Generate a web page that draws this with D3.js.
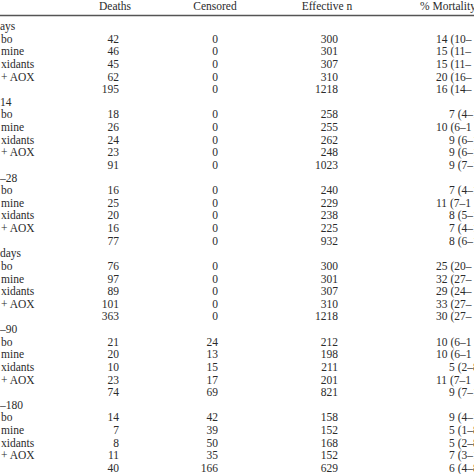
<!DOCTYPE html>
<html>
<head>
<meta charset="utf-8">
<script src="https://cdn.jsdelivr.net/npm/d3@7"></script>
<style>
  body { margin: 0; background: #fff; }
  svg { display: block; font-family: "Liberation Serif", "DejaVu Serif", serif; }
</style>
</head>
<body>
<svg id="chart" width="474" height="474"></svg>
<script>
// Sections of the table (left labels are cut off in the source image)
const sections = ['ays', '14', '–28', 'days', '–90', '–180'];
const groups = ['bo', 'mine', 'xidants', '+ AOX', ''];
const deaths = [
  [42, 46, 45, 62, 195],
  [18, 26, 24, 23, 91],
  [16, 25, 20, 16, 77],
  [76, 97, 89, 101, 363],
  [21, 20, 10, 23, 74],
  [14, 7, 8, 11, 40]
];
const censored = [
  [0, 0, 0, 0, 0],
  [0, 0, 0, 0, 0],
  [0, 0, 0, 0, 0],
  [0, 0, 0, 0, 0],
  [24, 13, 15, 17, 69],
  [42, 39, 50, 35, 166]
];
const effectiveN = [
  [300, 301, 307, 310, 1218],
  [258, 255, 262, 248, 1023],
  [240, 229, 238, 225, 932],
  [300, 301, 307, 310, 1218],
  [212, 198, 211, 201, 821],
  [158, 152, 168, 152, 629]
];
// % mortality point estimate and the visible part of the CI
const mortality = [
  [14, 15, 15, 20, 16],
  [7, 10, 9, 9, 9],
  [7, 11, 8, 7, 8],
  [25, 32, 29, 33, 30],
  [10, 10, 5, 11, 9],
  [9, 5, 5, 7, 6]
];
const ciText = [
  ['(10–', '(11–', '(11–', '(16–', '(14–'],
  ['(4–1', '(6–1', '(6–1', '(6–1', '(7–1'],
  ['(4–1', '(7–1', '(5–1', '(4–1', '(6–1'],
  ['(20–', '(27–', '(24–', '(27–', '(27–'],
  ['(6–1', '(6–1', '(2–8', '(7–1', '(7–1'],
  ['(4–1', '(1–8', '(2–8', '(3–1', '(4–8']
];
const headers = ['Deaths', 'Censored', 'Effective n', '% Mortality ('];

const svg = d3.select('#chart');
const ink = '#2b2b2b';

// flatten into rows: one section label row followed by group rows
const rows = [];
sections.forEach((s, i) => {
  rows.push({ label: s, head: true });
  groups.forEach((g, j) => rows.push({
    label: g, d: deaths[i][j], c: censored[i][j], n: effectiveN[i][j],
    m: mortality[i][j], ci: ciText[i][j]
  }));
});

const y = d3.scaleLinear().domain([0, rows.length - 1]).range([26, 468]);

// header
const hx = [115, 215, 327, 420];
svg.selectAll('text.h').data(headers).join('text')
  .attr('x', (d, i) => hx[i]).attr('y', 10)
  .attr('text-anchor', (d, i) => i === 3 ? 'start' : 'middle')
  .attr('font-size', 11.5).attr('fill', ink).text(d => d);
svg.append('line').attr('x1', 0).attr('x2', 474).attr('y1', 15.5).attr('y2', 15.5)
  .attr('stroke', '#555').attr('stroke-width', 1.3);

const row = svg.selectAll('g.row').data(rows).join('g')
  .attr('transform', (d, i) => `translate(0,${y(i) + 4})`)
  .attr('font-size', 11.5).attr('fill', ink);

row.append('text').attr('x', d => d.head ? 0 : 1).text(d => d.label);

const body = row.filter(d => !d.head);
body.append('text').attr('x', 119).attr('text-anchor', 'end').text(d => d.d);
body.append('text').attr('x', 218).attr('text-anchor', 'end').text(d => d.c);
body.append('text').attr('x', 338).attr('text-anchor', 'end').text(d => d.n);
body.append('text')
  .attr('x', d => String(d.m).length > 1 ? 436 : 449)
  .text(d => `${d.m} ${d.ci}`);
</script>
</body>
</html>
